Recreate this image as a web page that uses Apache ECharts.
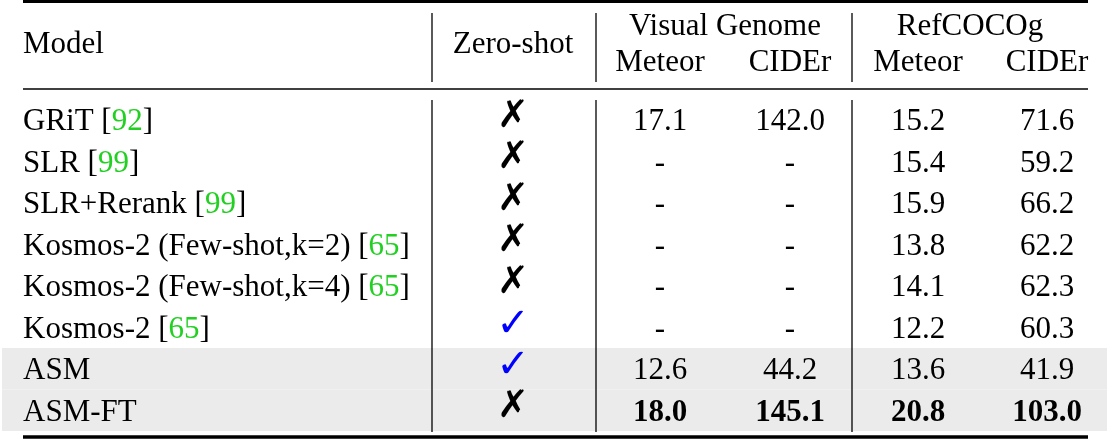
<!DOCTYPE html>
<html>
<head>
<meta charset="utf-8">
<script src="https://cdn.jsdelivr.net/npm/echarts@6/dist/echarts.min.js"></script>
<style>html,body{margin:0;padding:0;background:#fff}#main{width:1113px;height:442px}</style>
</head>
<body>
<div id="main"></div>
<script>
// table contents
const models = ['GRiT', 'SLR', 'SLR+Rerank', 'Kosmos-2 (Few-shot,k=2)', 'Kosmos-2 (Few-shot,k=4)', 'Kosmos-2', 'ASM', 'ASM-FT'];
const cites = ['92', '99', '99', '65', '65', '65', '', ''];
const zeroShot = [false, false, false, false, false, true, true, false];
const vgMeteor = ['17.1', '-', '-', '-', '-', '-', '12.6', '18.0'];
const vgCider = ['142.0', '-', '-', '-', '-', '-', '44.2', '145.1'];
const rcMeteor = ['15.2', '15.4', '15.9', '13.8', '14.1', '12.2', '13.6', '20.8'];
const rcCider = ['71.6', '59.2', '66.2', '62.2', '62.3', '60.3', '41.9', '103.0'];
const boldRows = [7];
const shadedRows = [6, 7];

const FONT = '"Liberation Serif", "Times New Roman", serif';
const FS = 31;
const rowY = i => 122 + i * 41.5;
const colX = { zs: 513, vgM: 660, vgC: 790, rcM: 918, rcC: 1047 };

const g = [];
function txt(x, y, s, opt) {
  g.push({ type: 'text', x: x, y: y, z: 10, style: Object.assign({
    text: s, font: FS + 'px ' + FONT, fill: '#000', align: 'center', verticalAlign: 'middle'
  }, opt || {}) });
}
function line(x1, y1, x2, y2, w) {
  g.push({ type: 'line', z: 5, shape: { x1: x1, y1: y1, x2: x2, y2: y2 }, style: { stroke: '#000', lineWidth: w } });
}

// shaded rows
shadedRows.forEach(i => {
  g.push({ type: 'rect', z: 1, shape: { x: 2, y: rowY(i) - 23, width: 1105, height: 41.5 }, style: { fill: '#ebebeb' } });
});

// rules
line(23, 1.5, 1088, 1.5, 3);
line(23, 89, 1088, 89, 1.5);
line(23, 437, 1088, 437, 3.5);
[432, 596, 852].forEach(x => { line(x, 13, x, 82, 1.3); line(x, 100, x, 432, 1.3); });

// header
txt(23, 45, 'Model', { align: 'left' });
txt(colX.zs, 45, 'Zero-shot');
txt(725, 27, 'Visual Genome');
txt(970, 27, 'RefCOCOg');
txt(colX.vgM, 63, 'Meteor');
txt(colX.vgC, 63, 'CIDEr');
txt(colX.rcM, 63, 'Meteor');
txt(colX.rcC, 63, 'CIDEr');

// body
models.forEach((m, i) => {
  const y = rowY(i);
  const bold = boldRows.indexOf(i) >= 0;
  const f = (bold ? 'bold ' : '') + FS + 'px ' + FONT;
  g.push({ type: 'text', x: 23, y: y, z: 10, style: {
    text: cites[i] ? '{n|' + m + ' [}{c|' + cites[i] + '}{n|]}' : '{n|' + m + '}',
    align: 'left', verticalAlign: 'middle',
    rich: { n: { font: FS + 'px ' + FONT, fill: '#000' }, c: { font: FS + 'px ' + FONT, fill: '#22d022' } }
  } });
  if (zeroShot[i]) txt(colX.zs, y - 4, '✓', { font: 'bold 40px "DejaVu Sans"', fill: '#0000ff' });
  else txt(colX.zs, y - 5, '✗', { font: 'bold 38px "DejaVu Sans"', fill: '#000' });
  txt(colX.vgM, y, vgMeteor[i], { font: f });
  txt(colX.vgC, y, vgCider[i], { font: f });
  txt(colX.rcM, y, rcMeteor[i], { font: f });
  txt(colX.rcC, y, rcCider[i], { font: f });
});

const chart = echarts.init(document.getElementById('main'));
chart.setOption({ animation: false, graphic: g });
</script>
</body>
</html>
